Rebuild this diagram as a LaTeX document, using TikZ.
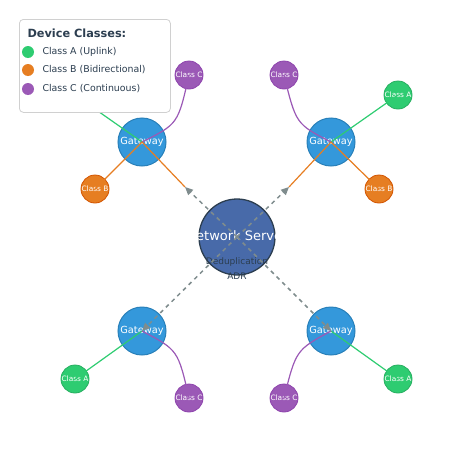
\documentclass[tikz,border=0pt]{standalone}
\usepackage{fontspec}
\setmainfont{DejaVu Sans}
\usetikzlibrary{arrows.meta}
\definecolor{srvfill}{HTML}{3A5FA3}
\definecolor{srvline}{HTML}{2C3E50}
\definecolor{gwfill}{HTML}{3498DB}
\definecolor{gwline}{HTML}{2980B9}
\definecolor{clsA}{HTML}{2ECC71}
\definecolor{clsAline}{HTML}{27AE60}
\definecolor{clsB}{HTML}{E67E22}
\definecolor{clsBline}{HTML}{D35400}
\definecolor{clsC}{HTML}{9B59B6}
\definecolor{clsCline}{HTML}{8E44AD}
\definecolor{dashgray}{HTML}{7F8C8D}
\definecolor{darktext}{HTML}{2C3E50}
\definecolor{legline}{HTML}{D0D0D0}

\begin{document}
\begin{tikzpicture}[x=1pt,y=-1pt,
		dev/.style={circle,draw,line width=0.8pt,minimum size=28pt,inner sep=0pt,text=white,font=\fontsize{7.4}{8}\selectfont},
		gw/.style={circle,draw=gwline,fill=gwfill,line width=1pt,minimum size=48pt,inner sep=0pt,text=white,font=\fontsize{9.8}{11}\selectfont},
		link/.style={line width=1.2pt},
		uplink/.style={dashgray,line width=1.5pt,dash pattern=on 4pt off 4pt,-{Triangle[length=8pt,width=7pt]}},
		legdot/.style={circle,fill=#1,minimum size=12pt,inner sep=0pt}]
		\useasboundingbox (0,0) rectangle (474,474);
		
		% server and its functions
		\node[circle,draw=srvline,fill=srvfill,fill opacity=0.93,line width=1.3pt,minimum size=76pt,inner sep=0pt] (srv) at (237,237) {};
		\node[text=white,font=\fontsize{13}{15}\selectfont] (srvname) at (237,236) {Network Server};
		\node[darktext,font=\fontsize{9}{10}\selectfont] (dedup) at (237,262) {Deduplication};
		\node[darktext,font=\fontsize{9}{10}\selectfont] (adr) at (237,276) {ADR};
		
		% gateways
		\foreach \n/\x/\y in {gwtl/142/142,gwtr/331/142,gwbl/142/331,gwbr/331/331}
		\node[gw] (\n) at (\x,\y) {Gateway};
		
		% end devices
		\foreach \n/\x/\y/\c/\t in {tla/75/95/clsA/A,tlb/95/189/clsB/B,tlc/189/75/clsC/C,
			tra/398/95/clsA/A,trb/379/189/clsB/B,trc/284/75/clsC/C,
			bla/75/379/clsA/A,blc/189/398/clsC/C,
			bra/398/379/clsA/A,brc/284/398/clsC/C}
		\node[dev,fill=\c,draw=\c line] (\n) at (\x,\y) {Class \t};
		
		% device links
		\foreach \d/\g in {tla/gwtl,tra/gwtr,bla/gwbl,bra/gwbr}
		\draw[link,clsA] (\d.center) -- (\g.center);
		\draw[link,clsB] (tlb.center) -- (gwtl.center);
		\draw[link,clsB] (trb.center) -- (gwtr.center);
		\draw[link,clsC] (tlc.center) .. controls (178,124) .. (gwtl.center);
		\draw[link,clsC] (trc.center) .. controls (296,124) .. (gwtr.center);
		\draw[link,clsC] (gwbl.center) .. controls (178,350) .. (blc.center);
		\draw[link,clsC] (gwbr.center) .. controls (296,350) .. (brc.center);
		
		% backhaul
		\coordinate (tiptl) at (185,187);
		\coordinate (tiptr) at (289,187);
		\draw[link,clsB] (gwtl.center) -- (tiptl);
		\draw[link,clsB] (gwtr.center) -- (tiptr);
		\draw[uplink] (srv.center) -- (tiptl);
		\draw[uplink] (srv.center) -- (tiptr);
		\draw[uplink] (srv.center) -- (gwbl.center);
		\draw[uplink] (srv.center) -- (gwbr.center);
		
		% legend
		\node[draw=legline,fill=white,line width=0.8pt,rounded corners=4pt,minimum width=151pt,minimum height=93pt,anchor=north west] (legend) at (19,19) {};
		\node[anchor=west,darktext,font=\bfseries\fontsize{11.3}{13}\selectfont] (legtitle) at (24,33) {Device Classes:};
		\foreach \y/\c/\t in {52/clsA/Class A (Uplink),70/clsB/Class B (Bidirectional),89/clsC/Class C (Continuous)}{
			\node[legdot=\c] at (28,\y) {};
			\node[anchor=west,darktext,font=\fontsize{9.4}{11}\selectfont] at (39,\y) {\t};
		}
	\end{tikzpicture}
\end{document}
